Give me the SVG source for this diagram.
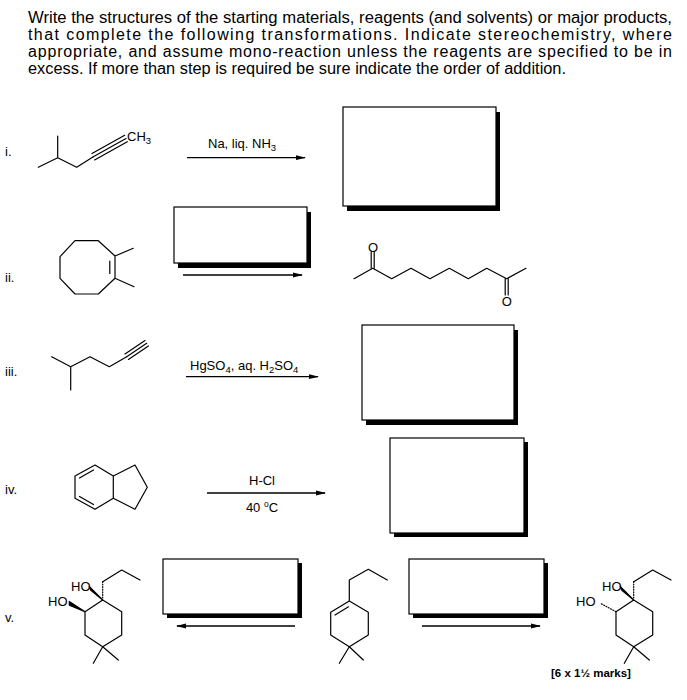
<svg xmlns="http://www.w3.org/2000/svg" width="687" height="700" viewBox="0 0 687 700">
<style>
text{font-family:"Liberation Sans",Arial,sans-serif;fill:#000}
.h{font-size:16px}
.l{font-size:13px}
.b{fill:none;stroke:#000;stroke-width:1.2;stroke-linecap:round;stroke-linejoin:round}
.a{stroke:#000;stroke-width:1.3}
.bx{fill:#fff;stroke:#000;stroke-width:1.2}
.sh{fill:#000}
</style>
<defs>
<marker id="ah" markerWidth="10" markerHeight="6" refX="9" refY="3" orient="auto" markerUnits="userSpaceOnUse"><path d="M0,0.6 L10,3 L0,5.4 Z"/></marker>
</defs>
<rect width="687" height="700" fill="#fff"/>
<g id="header">
<text class="h" x="28" y="23" textLength="644" lengthAdjust="spacingAndGlyphs">Write the structures of the starting materials, reagents (and solvents) or major products,</text>
<text class="h" x="28" y="40" textLength="644" lengthAdjust="spacing">that complete the following transformations. Indicate stereochemistry, where</text>
<text class="h" x="28" y="57" textLength="644" lengthAdjust="spacing">appropriate, and assume mono-reaction unless the reagents are specified to be in</text>
<text class="h" x="28" y="74" textLength="538" lengthAdjust="spacingAndGlyphs">excess. If more than step is required be sure indicate the order of addition.</text>
</g>
<g id="labels">
<text class="l" x="5" y="156">i.</text>
<text class="l" x="5" y="282">ii.</text>
<text class="l" x="5" y="376">iii.</text>
<text class="l" x="5" y="494">iv.</text>
<text class="l" x="5" y="622">v.</text>
<text x="551" y="677" style="font-size:11.5px;font-weight:bold">[6 x 1½ marks]</text>
</g>
<g id="boxes">
<rect class="sh" x="347" y="112" width="153" height="99"/><rect class="bx" x="343" y="107" width="153" height="99"/>
<rect class="sh" x="178" y="212" width="133" height="56"/><rect class="bx" x="174" y="207" width="133" height="56"/>
<rect class="sh" x="366" y="330" width="152" height="95"/><rect class="bx" x="362" y="325" width="152" height="95"/>
<rect class="sh" x="394" y="442" width="134" height="95"/><rect class="bx" x="390" y="438" width="134" height="95"/>
<rect class="sh" x="167" y="563" width="135" height="55"/><rect class="bx" x="163" y="559" width="135" height="55"/>
<rect class="sh" x="413" y="563" width="135" height="55"/><rect class="bx" x="409" y="559" width="135" height="55"/>
</g>
<g id="connectors">
<line class="a" x1="187" y1="157.7" x2="305" y2="157.7" marker-end="url(#ah)"/>
<line class="a" x1="183" y1="275" x2="302" y2="275" marker-end="url(#ah)"/>
<line class="a" x1="186" y1="376.7" x2="318" y2="376.7" marker-end="url(#ah)"/>
<line class="a" x1="207" y1="493" x2="325" y2="493" marker-end="url(#ah)"/>
<line class="a" x1="295" y1="626" x2="177" y2="626" marker-end="url(#ah)"/>
<line class="a" x1="422" y1="626" x2="540" y2="626" marker-end="url(#ah)"/>
</g>
<g id="reagents">
<text class="l" x="208" y="148">Na, liq. NH<tspan dy="3" style="font-size:9.5px">3</tspan></text>
<text class="l" x="190" y="370">HgSO<tspan dy="3" style="font-size:9.5px">4</tspan><tspan dy="-3">, aq. H</tspan><tspan dy="3" style="font-size:9.5px">2</tspan><tspan dy="-3">SO</tspan><tspan dy="3" style="font-size:9.5px">4</tspan></text>
<text class="l" x="262" y="485" text-anchor="middle">H-Cl</text>
<text class="l" x="262" y="512" text-anchor="middle">40 <tspan dy="-5" style="font-size:8.5px">o</tspan><tspan dy="5">C</tspan></text>
</g>
<g id="mol-i">
<path class="b" d="M38.3,167.3 L57.7,157.7 L76.7,167.3 L93.3,156.7 M57.7,157.7 L57.7,136"/>
<path class="b" d="M93.3,156.7 L126,138.5 M92,153.5 L124.7,135.3 M94.6,159.9 L127.3,141.7"/>
<text class="l" x="127" y="141">CH<tspan dy="3" style="font-size:9.5px">3</tspan></text>
</g>
<g id="mol-ii">
<path class="b" d="M75,240.7 L98.3,240.7 L115,256 L115,278.3 L98.3,294 L75,294 L60,278.3 L60,256.7 Z M109.8,261 L109.8,273.5 M115,256 L133.3,248.3 M115,278.3 L134,286.7"/>
</g>
<g id="mol-ii-product">
<path class="b" d="M354,278.7 L372.7,268.3 L391.7,278.7 L411,268.3 L430,278.7 L449.3,268.3 L468.3,278.7 L486.7,268.3 L506.7,278.7 L526,268.3"/>
<path class="b" d="M371.2,268.3 L371.2,252 M374.2,268.3 L374.2,252 M505.2,278.7 L505.2,295 M508.2,278.7 L508.2,295"/>
<text class="l" x="373" y="251.5" text-anchor="middle">O</text>
<text class="l" x="506.7" y="306" text-anchor="middle">O</text>
</g>
<g id="mol-iii">
<path class="b" d="M51.7,356.7 L70.7,366.7 L90,356.7 L109.3,366.7 L126.7,356.7 M70.7,366.7 L70.7,390"/>
<path class="b" d="M126.7,356.7 L146.7,343.3 M125,354 L145,340.6 M128.4,359.4 L148.4,346"/>
</g>
<g id="mol-iv">
<path class="b" d="M95,465 L75,476 L75,498.3 L95,509.3 L113.3,498.3 L113.3,476 Z M113.3,476 L135,465 L147.3,487.3 L135,509.3 L113.3,498.3"/>
<path class="b" d="M93.5,470 L79.5,478 M79.5,496.5 L93.5,504.5"/>
</g>
<g id="mol-v-left">
<path class="b" d="M102.7,600 L85,611.7 L85,635 L102.7,646.7 L121.7,635 L121.7,611.7 Z M102.7,646.7 L93.3,663.3 M102.7,646.7 L118.3,660 M102.7,581.7 L121.7,570 L140,580"/>
<path d="M102.7,600 L89.2,586.5 L90.8,590.2 Z M85,611.7 L69.3,601.5 L69.3,605.1 Z" stroke="#000" stroke-width="1.2" stroke-linejoin="round"/>
<path class="b" d="M102.7,598 L102.7,581.7" stroke-dasharray="1,1.6" stroke-width="2.6"/>
<text class="l" x="71" y="591">HO</text>
<text class="l" x="48" y="606">HO</text>
</g>
<g id="mol-v-mid">
<path class="b" d="M349.3,601 L330.7,612.3 L330.7,635 L349.3,646.7 L368.3,635 L368.3,612.3 Z M335,615 L348.5,606.8 M349.3,646.7 L339.3,663.3 M349.3,646.7 L363.3,660 M349.3,601 L349.3,580 L368.3,569.3 L387.3,580"/>
</g>
<g id="mol-v-right">
<path class="b" d="M633.7,600 L616,611.7 L616,635 L633.7,646.7 L652.7,635 L652.7,611.7 Z M633.7,646.7 L624.3,663.3 M633.7,646.7 L649.3,660 M633.7,581.7 L652.7,570 L671,580"/>
<path d="M633.7,600 L620.2,586.5 L621.8,590.2 Z" stroke="#000" stroke-width="1.2" stroke-linejoin="round"/>
<path class="b" d="M633.7,598 L633.7,581.7" stroke-dasharray="1,1.6" stroke-width="2.6"/>
<path class="b" d="M616,611.7 L600.3,603.3" stroke-dasharray="1,1.6" stroke-width="2.6"/>
<text class="l" x="602" y="591">HO</text>
<text class="l" x="576" y="606">HO</text>
</g>
</svg>
